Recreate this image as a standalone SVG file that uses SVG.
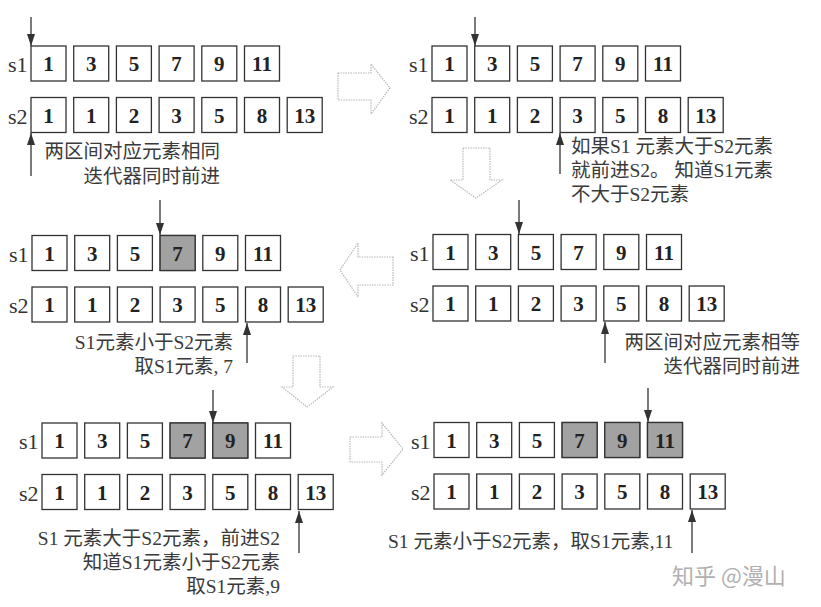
<svg xmlns="http://www.w3.org/2000/svg" width="821" height="607" viewBox="0 0 821 607">
<style>
.b{fill:#fff;stroke:#333;stroke-width:1.3}
.g{fill:#a2a2a2;stroke:#333;stroke-width:1.3}
.n{font-family:"Liberation Serif",serif;font-weight:bold;font-size:21px;fill:#222;text-anchor:middle}
.l{font-family:"Liberation Serif",serif;font-size:22px;fill:#333}
.t{font-family:"Liberation Serif","Noto Sans CJK SC",serif;font-size:19.5px;fill:#3a3a3a}
.e{text-anchor:end}
.p{stroke:#333;stroke-width:1.3;fill:none;marker-end:url(#ah)}
.blk{fill:#fff;stroke:#b8b8b8;stroke-width:1.2;stroke-dasharray:1.5 1}
.wm{font-family:"Noto Sans CJK SC",sans-serif;font-size:22px;fill:#b0b0b0}
</style>
<defs>
<marker id="ah" markerUnits="userSpaceOnUse" markerWidth="12" markerHeight="8" viewBox="0 0 12 8" refX="12" refY="4" orient="auto">
<path d="M0,0 L12,4 L0,8 z" fill="#333"/>
</marker>
<g id="r1">
<rect class="b" x="0" y="0" width="35" height="35"/><rect class="b" x="42.7" y="0" width="35" height="35"/><rect class="b" x="85.4" y="0" width="35" height="35"/><rect class="b" x="128.1" y="0" width="35" height="35"/><rect class="b" x="170.8" y="0" width="35" height="35"/><rect class="b" x="213.5" y="0" width="35" height="35"/>
</g>
<g id="r2">
<rect class="b" x="0" y="51.5" width="35" height="35"/><rect class="b" x="42.7" y="51.5" width="35" height="35"/><rect class="b" x="85.4" y="51.5" width="35" height="35"/><rect class="b" x="128.1" y="51.5" width="35" height="35"/><rect class="b" x="170.8" y="51.5" width="35" height="35"/><rect class="b" x="213.5" y="51.5" width="35" height="35"/><rect class="b" x="256.2" y="51.5" width="35" height="35"/>
<text class="l" x="-23" y="77.5">s2</text>
<text class="n" x="17.5" y="76.5">1</text><text class="n" x="60.2" y="76.5">1</text><text class="n" x="102.9" y="76.5">2</text><text class="n" x="145.6" y="76.5">3</text><text class="n" x="188.3" y="76.5">5</text><text class="n" x="231" y="76.5">8</text><text class="n" x="273.7" y="76.5">13</text>
</g>
<g id="r1t">
<text class="l" x="-23" y="26">s1</text>
<text class="n" x="17.5" y="25">1</text><text class="n" x="60.2" y="25">3</text><text class="n" x="102.9" y="25">5</text><text class="n" x="145.6" y="25">7</text><text class="n" x="188.3" y="25">9</text><text class="n" x="231" y="25">11</text>
</g>
</defs>
<rect width="821" height="607" fill="#fff"/>

<g id="panel1" transform="translate(31,46)">
<use href="#r1"/><use href="#r2"/><use href="#r1t"/>
</g>
<g id="panel2" transform="translate(432,46)">
<use href="#r1"/><use href="#r2"/><use href="#r1t"/>
</g>
<g id="panel3" transform="translate(32,235.5)">
<use href="#r1"/><rect class="g" x="128.1" y="0" width="35" height="35"/><use href="#r2"/><use href="#r1t"/>
</g>
<g id="panel4" transform="translate(433,234.5)">
<use href="#r1"/><use href="#r2"/><use href="#r1t"/>
</g>
<g id="panel5" transform="translate(42,423)">
<use href="#r1"/><rect class="g" x="128.1" y="0" width="35" height="35"/><rect class="g" x="170.8" y="0" width="35" height="35"/><use href="#r2"/><use href="#r1t"/>
</g>
<g id="panel6" transform="translate(434,422.5)">
<use href="#r1"/><rect class="g" x="128.1" y="0" width="35" height="35"/><rect class="g" x="170.8" y="0" width="35" height="35"/><rect class="g" x="213.5" y="0" width="35" height="35"/><use href="#r2"/><use href="#r1t"/>
</g>

<g id="notes">
<text class="t e" x="220" y="158">两区间对应元素相同</text>
<text class="t e" x="220" y="183">迭代器同时前进</text>
<text class="t" x="571" y="153">如果S1 元素大于S2元素</text>
<text class="t" x="571" y="177">就前进S2。 知道S1元素</text>
<text class="t" x="571" y="201">不大于S2元素</text>
<text class="t e" x="233" y="349">S1元素小于S2元素</text>
<text class="t e" x="233" y="373">取S1元素, 7</text>
<text class="t e" x="800" y="349">两区间对应元素相等</text>
<text class="t e" x="800" y="373">迭代器同时前进</text>
<text class="t e" x="280" y="545">S1 元素大于S2元素，前进S2</text>
<text class="t e" x="280" y="569">知道S1元素小于S2元素</text>
<text class="t e" x="280" y="593">取S1元素,9</text>
<text class="t" x="388" y="548">S1 元素小于S2元素，取S1元素,11</text>
<text class="wm" x="672" y="584">知乎 @漫山</text>
</g>

<g id="connectors">
<path class="p" d="M31,17 V46"/>
<path class="p" d="M31,176 V133"/>
<path class="p" d="M475,17 V46"/>
<path class="p" d="M560,174 V133"/>
<path class="p" d="M160,200 V235"/>
<path class="p" d="M247,363 V323"/>
<path class="p" d="M519,200 V234"/>
<path class="p" d="M605,363 V322"/>
<path class="p" d="M213,390 V423"/>
<path class="p" d="M299,553 V511"/>
<path class="p" d="M648,388 V422"/>
<path class="p" d="M692,553 V510"/>
<path class="blk" d="M338,73 H371 V64 L390,88 L371,114 V100 H338 Z"/>
<path class="blk" d="M463,148 H490 V180 H502 L476,198 L450,180 H463 Z"/>
<path class="blk" d="M393,257 V285 H358 V297 L340,270 L358,243 V257 Z"/>
<path class="blk" d="M293,356 H320 V387 H333 L307,407 L282,387 H293 Z"/>
<path class="blk" d="M350,437 H382 V423 L403,449 L382,475 V462 H350 Z"/>
</g>
</svg>
